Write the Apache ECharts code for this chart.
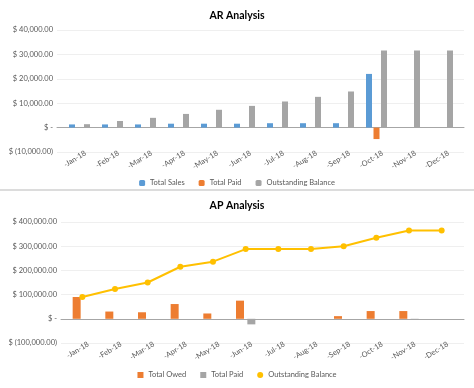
<!DOCTYPE html>
<html>
<head>
<meta charset="utf-8">
<script src="https://cdn.jsdelivr.net/npm/echarts@6/dist/echarts.min.js"></script>
<style>
  html, body { margin:0; padding:0; background:#fff; }
  #wrap { position:relative; width:474px; height:388px; overflow:hidden; }
  #c1 { position:absolute; left:0; top:0; width:474px; height:189px; }
  #sep { position:absolute; left:0; top:189px; width:474px; height:2px; background:#dcdcdc; }
  #c2 { position:absolute; left:0; top:191px; width:474px; height:197px; }
</style>
</head>
<body>
<div id="wrap"><div id="c1"></div><div id="sep"></div><div id="c2"></div></div>
<script>
// ---- data ----
const months = ['-Jan-18','-Feb-18','-Mar-18','-Apr-18','-May-18','-Jun-18','-Jul-18','-Aug-18','-Sep-18','-Oct-18','-Nov-18','-Dec-18'];

const arTotalSales   = [1300, 1300, 1300, 1600, 1600, 1600, 1800, 1800, 1800, 22000, 0, 0];
const arTotalPaid    = [0, 0, 0, 0, 0, 0, 0, 0, 0, -4700, 0, 0];
const arOutstanding  = [1400, 2700, 4000, 5600, 7300, 8900, 10700, 12600, 14800, 31600, 31600, 31600];
const arTickLabels   = ['$ (10,000.00)', '$ -', '$ 10,000.00', '$ 20,000.00', '$ 30,000.00', '$ 40,000.00'];

const apTotalOwed    = [90000, 30000, 27000, 61000, 22000, 75000, 0, 0, 11000, 32000, 32000, 0];
const apTotalPaid    = [0, 0, 0, 0, 0, -23000, 0, 0, 0, 0, -4000, 0];
const apOutstanding  = [90000, 123000, 150000, 215000, 236000, 288000, 288000, 288000, 300000, 335000, 365000, 365000];
const apTickLabels   = ['$ (100,000.00)', '$ -', '$ 100,000.00', '$ 200,000.00', '$ 300,000.00', '$ 400,000.00'];

// ---- style ----
const FONT = 'Lato';
const TXT = '#595959';
const BLUE = '#5B9BD5', ORANGE = '#ED7D31', GRAY = '#A5A5A5', YELLOW = '#FFC000';

function makeOption(cfg) {
  const fmt = v => {
    const i = Math.round((v - cfg.min) / cfg.interval);
    return cfg.ticks[i] !== undefined ? cfg.ticks[i] : '';
  };
  return {
    animation: false,
    title: {
      text: cfg.title, left: 'center', top: cfg.titleTop, padding: 0,
      textStyle: { fontFamily: FONT, fontWeight: 'bold', fontSize: 10.5, color: '#000' }
    },
    legend: {
      data: cfg.legend, top: cfg.legendTop, left: 'center',
      itemWidth: 6, itemHeight: 6, itemGap: 14, padding: 0,
      textStyle: { fontFamily: FONT, fontSize: 7.5, color: TXT }
    },
    grid: [
      Object.assign({ top: cfg.top, height: cfg.height }, cfg.wide),
      Object.assign({ top: cfg.top, height: cfg.height }, cfg.narrow)
    ],
    xAxis: [
      { gridIndex: 0, type: 'category', data: months,
        axisLine: { show: true, onZero: true, lineStyle: { color: '#a6a6a6', width: 1 } },
        axisTick: { show: false }, axisLabel: { show: false }, splitLine: { show: false } },
      { gridIndex: 1, type: 'category', data: months,
        axisLine: { show: false }, axisTick: { show: false },
        axisLabel: { rotate: 32, fontFamily: FONT, fontSize: 7.5, color: TXT, margin: 4, interval: 0,
                     padding: [0, -7, 0, 0] } }
    ],
    yAxis: [
      { gridIndex: 0, type: 'value', min: cfg.min, max: cfg.max, interval: cfg.interval,
        axisLine: { show: false }, axisTick: { show: false },
        axisLabel: { formatter: fmt, fontFamily: FONT, fontSize: 7.5, color: TXT, margin: 4 },
        splitLine: { lineStyle: { color: '#efefef', width: 1 } } },
      { gridIndex: 1, type: 'value', min: cfg.min, max: cfg.max, interval: cfg.interval, show: false,
        splitLine: { show: false } }
    ],
    series: cfg.series
  };
}

const c1 = echarts.init(document.getElementById('c1'), null, { renderer: 'canvas' });
c1.setOption(makeOption({
  title: 'AR Analysis', titleTop: 10,
  ticks: arTickLabels, min: -10000, max: 40000, interval: 10000,
  top: 30, height: 122,
  wide: { left: 57, right: 10 },
  narrow: { left: 63, width: 396 },
  legendTop: 179,
  legend: [{ name: 'Total Sales' }, { name: 'Total Paid' }, { name: 'Outstanding Balance' }],
  series: [
    { name: 'Total Sales', type: 'bar', xAxisIndex: 1, yAxisIndex: 1, data: arTotalSales,
      barWidth: 6, barGap: '25%', itemStyle: { color: BLUE } },
    { name: 'Total Paid', type: 'bar', xAxisIndex: 1, yAxisIndex: 1, data: arTotalPaid,
      barWidth: 6, barGap: '25%', itemStyle: { color: ORANGE } },
    { name: 'Outstanding Balance', type: 'bar', xAxisIndex: 1, yAxisIndex: 1, data: arOutstanding,
      barWidth: 6, barGap: '25%', itemStyle: { color: GRAY } }
  ]
}));

const c2 = echarts.init(document.getElementById('c2'), null, { renderer: 'canvas' });
c2.setOption(makeOption({
  title: 'AP Analysis', titleTop: 9,
  ticks: apTickLabels, min: -100000, max: 400000, interval: 100000,
  top: 31, height: 121,
  wide: { left: 61, right: 10 },
  narrow: { left: 66, width: 392 },
  legendTop: 180,
  legend: [{ name: 'Total Owed', icon: 'rect' }, { name: 'Total Paid', icon: 'rect' },
           { name: 'Outstanding Balance', icon: 'circle' }],
  series: [
    { name: 'Total Owed', type: 'bar', xAxisIndex: 1, yAxisIndex: 1, data: apTotalOwed,
      barWidth: 8, barGap: '42%', itemStyle: { color: ORANGE } },
    { name: 'Total Paid', type: 'bar', xAxisIndex: 1, yAxisIndex: 1, data: apTotalPaid,
      barWidth: 8, barGap: '42%', itemStyle: { color: GRAY } },
    { name: 'Outstanding Balance', type: 'line', xAxisIndex: 1, yAxisIndex: 1, data: apOutstanding,
      symbol: 'circle', symbolSize: 6, z: 5,
      lineStyle: { color: YELLOW, width: 2 }, itemStyle: { color: YELLOW } }
  ]
}));
</script>
</body>
</html>
